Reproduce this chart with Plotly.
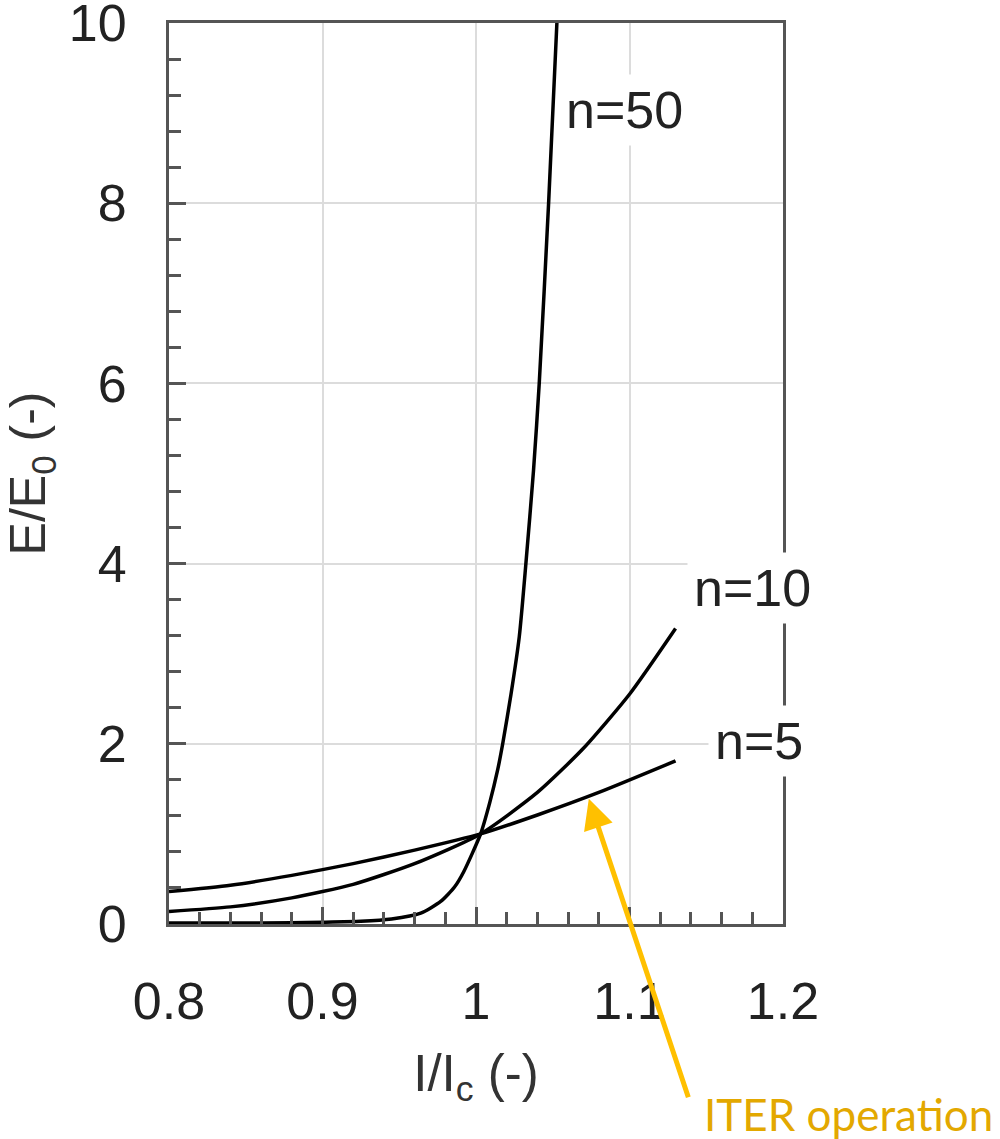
import plotly.graph_objects as go

# curves (E/E0 vs I/Ic)
n5_x = [0.80, 0.84, 0.88, 0.92, 0.96, 1.003, 1.04, 1.08, 1.13]
n5_y = [0.36, 0.43, 0.54, 0.67, 0.82, 1.00, 1.21, 1.46, 1.81]

n10_x = [0.80, 0.84, 0.88, 0.92, 0.96, 1.003, 1.04, 1.07, 1.10, 1.13]
n10_y = [0.14, 0.19, 0.29, 0.44, 0.67, 1.00, 1.46, 1.95, 2.55, 3.28]

n50_x = [0.80, 0.86, 0.90, 0.925, 0.945, 0.964, 0.977, 0.986, 0.992,
         1.003, 1.009, 1.0141, 1.0174, 1.0228, 1.0282, 1.0325, 1.0375,
         1.0412, 1.0473, 1.0527]
n50_y = [0.01, 0.01, 0.02, 0.03, 0.055, 0.12, 0.25, 0.41, 0.58,
         1.00, 1.35, 1.71, 2.00, 2.55, 3.19, 4.00, 5.04,
         6.00, 8.00, 10.00]

curve_labels = ["n=5", "n=10", "n=50"]
label_x = [1.1845, 1.18, 1.097]
label_y = [2.03, 3.73, 9.03]

x_ticks = [0.8, 0.9, 1.0, 1.1, 1.2]
x_tick_text = ["0.8", "0.9", "1", "1.1", "1.2"]
y_ticks = [0, 2, 4, 6, 8, 10]

arrow_tip = (1.0735, 1.39)
arrow_text = "ITER operation"

FONT = "Liberation Sans, Arial, sans-serif"
AXIS = "#555555"

fig = go.Figure()
for xs, ys in [(n5_x, n5_y), (n10_x, n10_y), (n50_x, n50_y)]:
    fig.add_trace(go.Scatter(
        x=xs, y=ys, mode="lines",
        line=dict(color="black", width=3.5, shape="spline", smoothing=0.6),
        showlegend=False, hoverinfo="skip"))

# curve labels sit on white boxes that hide grid and frame behind them
for txt, lx, ly in zip(curve_labels, label_x, label_y):
    fig.add_annotation(x=lx, y=ly, text=txt, showarrow=False,
                       font=dict(family=FONT, size=52, color="#222222"),
                       bgcolor="white", borderpad=6)

# arrow pointing at the operating point
fig.add_annotation(x=arrow_tip[0], y=arrow_tip[1], ax=100, ay=300,
                   text="", showarrow=True, arrowhead=2, arrowsize=1.2,
                   arrowwidth=5, arrowcolor="#FFC000", standoff=0)
fig.add_annotation(xref="paper", yref="paper", x=1.107, y=-0.211,
                   xanchor="center", yanchor="middle",
                   text=arrow_text, showarrow=False,
                   font=dict(family="Lato, sans-serif", size=44, color="#E3A800"))

fig.update_xaxes(
    range=[0.8, 1.2], tickvals=x_ticks, ticktext=x_tick_text,
    automargin=False,
    showline=True, linecolor=AXIS, linewidth=3, mirror=True,
    ticks="inside", ticklen=17, tickwidth=3, tickcolor=AXIS,
    minor=dict(dtick=0.02, ticks="inside", ticklen=12, tickwidth=3,
               tickcolor=AXIS, showgrid=False),
    showgrid=True, gridcolor="#dcdcdc", gridwidth=2, zeroline=False,
    ticklabelstandoff=30, ticklabeloverflow="allow",
    tickfont=dict(family=FONT, size=52, color="#222222"),
    title=dict(text="I/I<sub>c</sub> (-)", standoff=26,
               font=dict(family=FONT, size=51, color="#333333")))

fig.update_yaxes(
    range=[0, 10], tickvals=y_ticks,
    automargin=False,
    showline=True, linecolor=AXIS, linewidth=3, mirror=True,
    ticks="inside", ticklen=17, tickwidth=3, tickcolor=AXIS,
    minor=dict(dtick=0.4, ticks="inside", ticklen=12, tickwidth=3,
               tickcolor=AXIS, showgrid=False),
    showgrid=True, gridcolor="#dcdcdc", gridwidth=2, zeroline=False,
    ticklabelstandoff=29, ticklabeloverflow="allow",
    tickfont=dict(family=FONT, size=52, color="#222222"),
    title=dict(text="E/E<sub>0</sub> (-)", standoff=42,
               font=dict(family=FONT, size=50, color="#333333")))

fig.update_layout(
    width=1000, height=1139,
    margin=dict(l=169, r=217, t=23, b=215),
    plot_bgcolor="white", paper_bgcolor="white")

# drop the default 8px body margin so the figure fills the window exactly
fig.write_html("out.html", config={"displayModeBar": False},
               post_script="document.body.style.margin = '0';")
